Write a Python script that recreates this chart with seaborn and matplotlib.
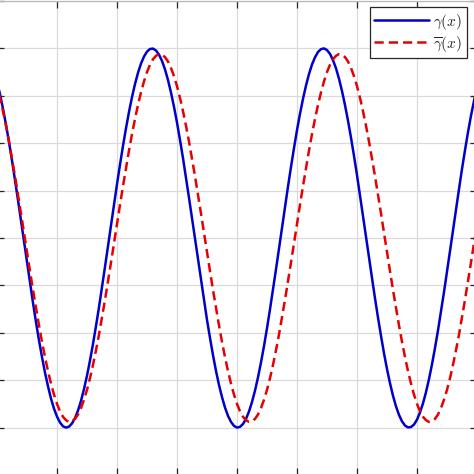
import matplotlib
matplotlib.use("Agg")
from matplotlib import pyplot as plt
import numpy as np
import pandas as pd
import seaborn as sns

# sample grid along x (axis runs 0..8, step 0.05)
x = np.linspace(0, 8, 161)

# gamma(x)
gamma = [
    0.825, 0.758, 0.682, 0.598, 0.506, 0.409, 0.306, 0.200, 0.091, -0.019,
    -0.129, -0.237, -0.342, -0.444, -0.540, -0.628, -0.710, -0.782, -0.847, -0.900,
    -0.942, -0.973, -0.993, -1.000, -0.995, -0.978, -0.950, -0.910, -0.859, -0.797,
    -0.726, -0.646, -0.559, -0.464, -0.365, -0.259, -0.152, -0.042, 0.068, 0.177,
    0.284, 0.387, 0.486, 0.579, 0.665, 0.743, 0.812, 0.871, 0.920, 0.957,
    0.983, 0.997, 0.999, 0.989, 0.967, 0.934, 0.889, 0.833, 0.767, 0.692,
    0.609, 0.517, 0.421, 0.318, 0.212, 0.104, -0.006, -0.116, -0.224, -0.330,
    -0.432, -0.527, -0.618, -0.701, -0.775, -0.839, -0.894, -0.938, -0.970, -0.991,
    -1.000, -0.996, -0.981, -0.954, -0.915, -0.865, -0.805, -0.735, -0.656, -0.570,
    -0.476, -0.376, -0.272, -0.165, -0.056, 0.054, 0.164, 0.271, 0.375, 0.474,
    0.569, 0.655, 0.734, 0.804, 0.865, 0.915, 0.953, 0.981, 0.996, 1.000,
    0.991, 0.971, 0.938, 0.895, 0.840, 0.775, 0.701, 0.619, 0.529, 0.433,
    0.332, 0.225, 0.117, 0.007, -0.103, -0.211, -0.318, -0.420, -0.516, -0.608,
    -0.691, -0.766, -0.832, -0.888, -0.933, -0.967, -0.989, -0.999, -0.997, -0.984,
    -0.958, -0.920, -0.872, -0.813, -0.744, -0.666, -0.580, -0.487, -0.387, -0.285,
    -0.178, -0.069, 0.041, 0.151, 0.258, 0.364, 0.463, 0.558, 0.645, 0.725,
    0.796,
]

# gamma bar(x), the dashed approximation
gamma_bar = [
    0.801, 0.739, 0.669, 0.592, 0.509, 0.419, 0.326, 0.228, 0.129, 0.027,
    -0.074, -0.175, -0.274, -0.369, -0.461, -0.548, -0.628, -0.702, -0.768, -0.826,
    -0.875, -0.914, -0.943, -0.961, -0.970, -0.967, -0.954, -0.931, -0.897, -0.853,
    -0.801, -0.739, -0.669, -0.592, -0.509, -0.419, -0.326, -0.228, -0.129, -0.027,
    0.074, 0.175, 0.274, 0.369, 0.461, 0.548, 0.628, 0.702, 0.768, 0.826,
    0.875, 0.914, 0.943, 0.961, 0.970, 0.967, 0.954, 0.931, 0.897, 0.853,
    0.801, 0.739, 0.669, 0.592, 0.509, 0.419, 0.326, 0.228, 0.129, 0.027,
    -0.074, -0.175, -0.274, -0.369, -0.461, -0.548, -0.628, -0.702, -0.768, -0.826,
    -0.875, -0.914, -0.943, -0.961, -0.970, -0.967, -0.954, -0.931, -0.897, -0.853,
    -0.801, -0.739, -0.669, -0.592, -0.509, -0.419, -0.326, -0.228, -0.129, -0.027,
    0.074, 0.175, 0.274, 0.369, 0.461, 0.548, 0.628, 0.702, 0.768, 0.826,
    0.875, 0.914, 0.943, 0.961, 0.970, 0.967, 0.954, 0.931, 0.897, 0.853,
    0.801, 0.739, 0.669, 0.592, 0.509, 0.419, 0.326, 0.228, 0.129, 0.027,
    -0.074, -0.175, -0.274, -0.369, -0.461, -0.548, -0.628, -0.702, -0.768, -0.826,
    -0.875, -0.914, -0.943, -0.961, -0.970, -0.967, -0.954, -0.931, -0.897, -0.853,
    -0.801, -0.739, -0.669, -0.592, -0.509, -0.419, -0.326, -0.228, -0.129, -0.027,
    0.074,
]

labels = [r"$\gamma(x)$", r"$\overline{\gamma}(x)$"]
x_ticks = [0, 1, 2, 3, 4, 5, 6, 7, 8]
y_ticks = [-1.25, -1.0, -0.75, -0.5, -0.25, 0.0, 0.25, 0.5, 0.75, 1.0, 1.25]


def main():
    sns.set_theme(style="whitegrid")
    plt.rcParams["mathtext.fontset"] = "cm"

    df = pd.DataFrame({"x": x, "gamma": gamma, "gamma_bar": gamma_bar})

    fig = plt.figure(figsize=(4.74, 4.74), dpi=100)
    # the picture is a tight crop of the axes, so the axes overhang the figure
    ax = fig.add_axes([-3 / 474, -1 / 474, 480 / 474, 474 / 474])

    sns.lineplot(data=df, x="x", y="gamma", ax=ax, color="#0000cc",
                 linewidth=1.8, label=labels[0])
    sns.lineplot(data=df, x="x", y="gamma_bar", ax=ax, color="#e60000",
                 linewidth=1.8, linestyle=(0, (3.7, 2.0)), label=labels[1])

    ax.set_xlim(0, 8)
    ax.set_ylim(-1.25, 1.25)
    ax.set_xticks(x_ticks)
    ax.set_yticks(y_ticks)
    ax.set_xticklabels([])
    ax.set_yticklabels([])
    ax.set_xlabel("")
    ax.set_ylabel("")
    ax.grid(True, color="#dadada", linewidth=0.9)
    ax.tick_params(direction="in", length=5, width=0.9, color="#262626",
                   top=True, bottom=True, left=True, right=True)
    for side in ax.spines:
        ax.spines[side].set_color("#b8b8b8")
        ax.spines[side].set_linewidth(0.9)

    leg = ax.legend(loc="upper right", bbox_to_anchor=(0.979, 0.987),
                    borderaxespad=0, fontsize=11, handlelength=3.6,
                    handletextpad=0.25, borderpad=0.3, labelspacing=0.12,
                    fancybox=False, framealpha=1, edgecolor="#262626")
    leg.get_frame().set_linewidth(0.9)

    fig.savefig("out.png", dpi=100)


if __name__ == "__main__":
    main()
